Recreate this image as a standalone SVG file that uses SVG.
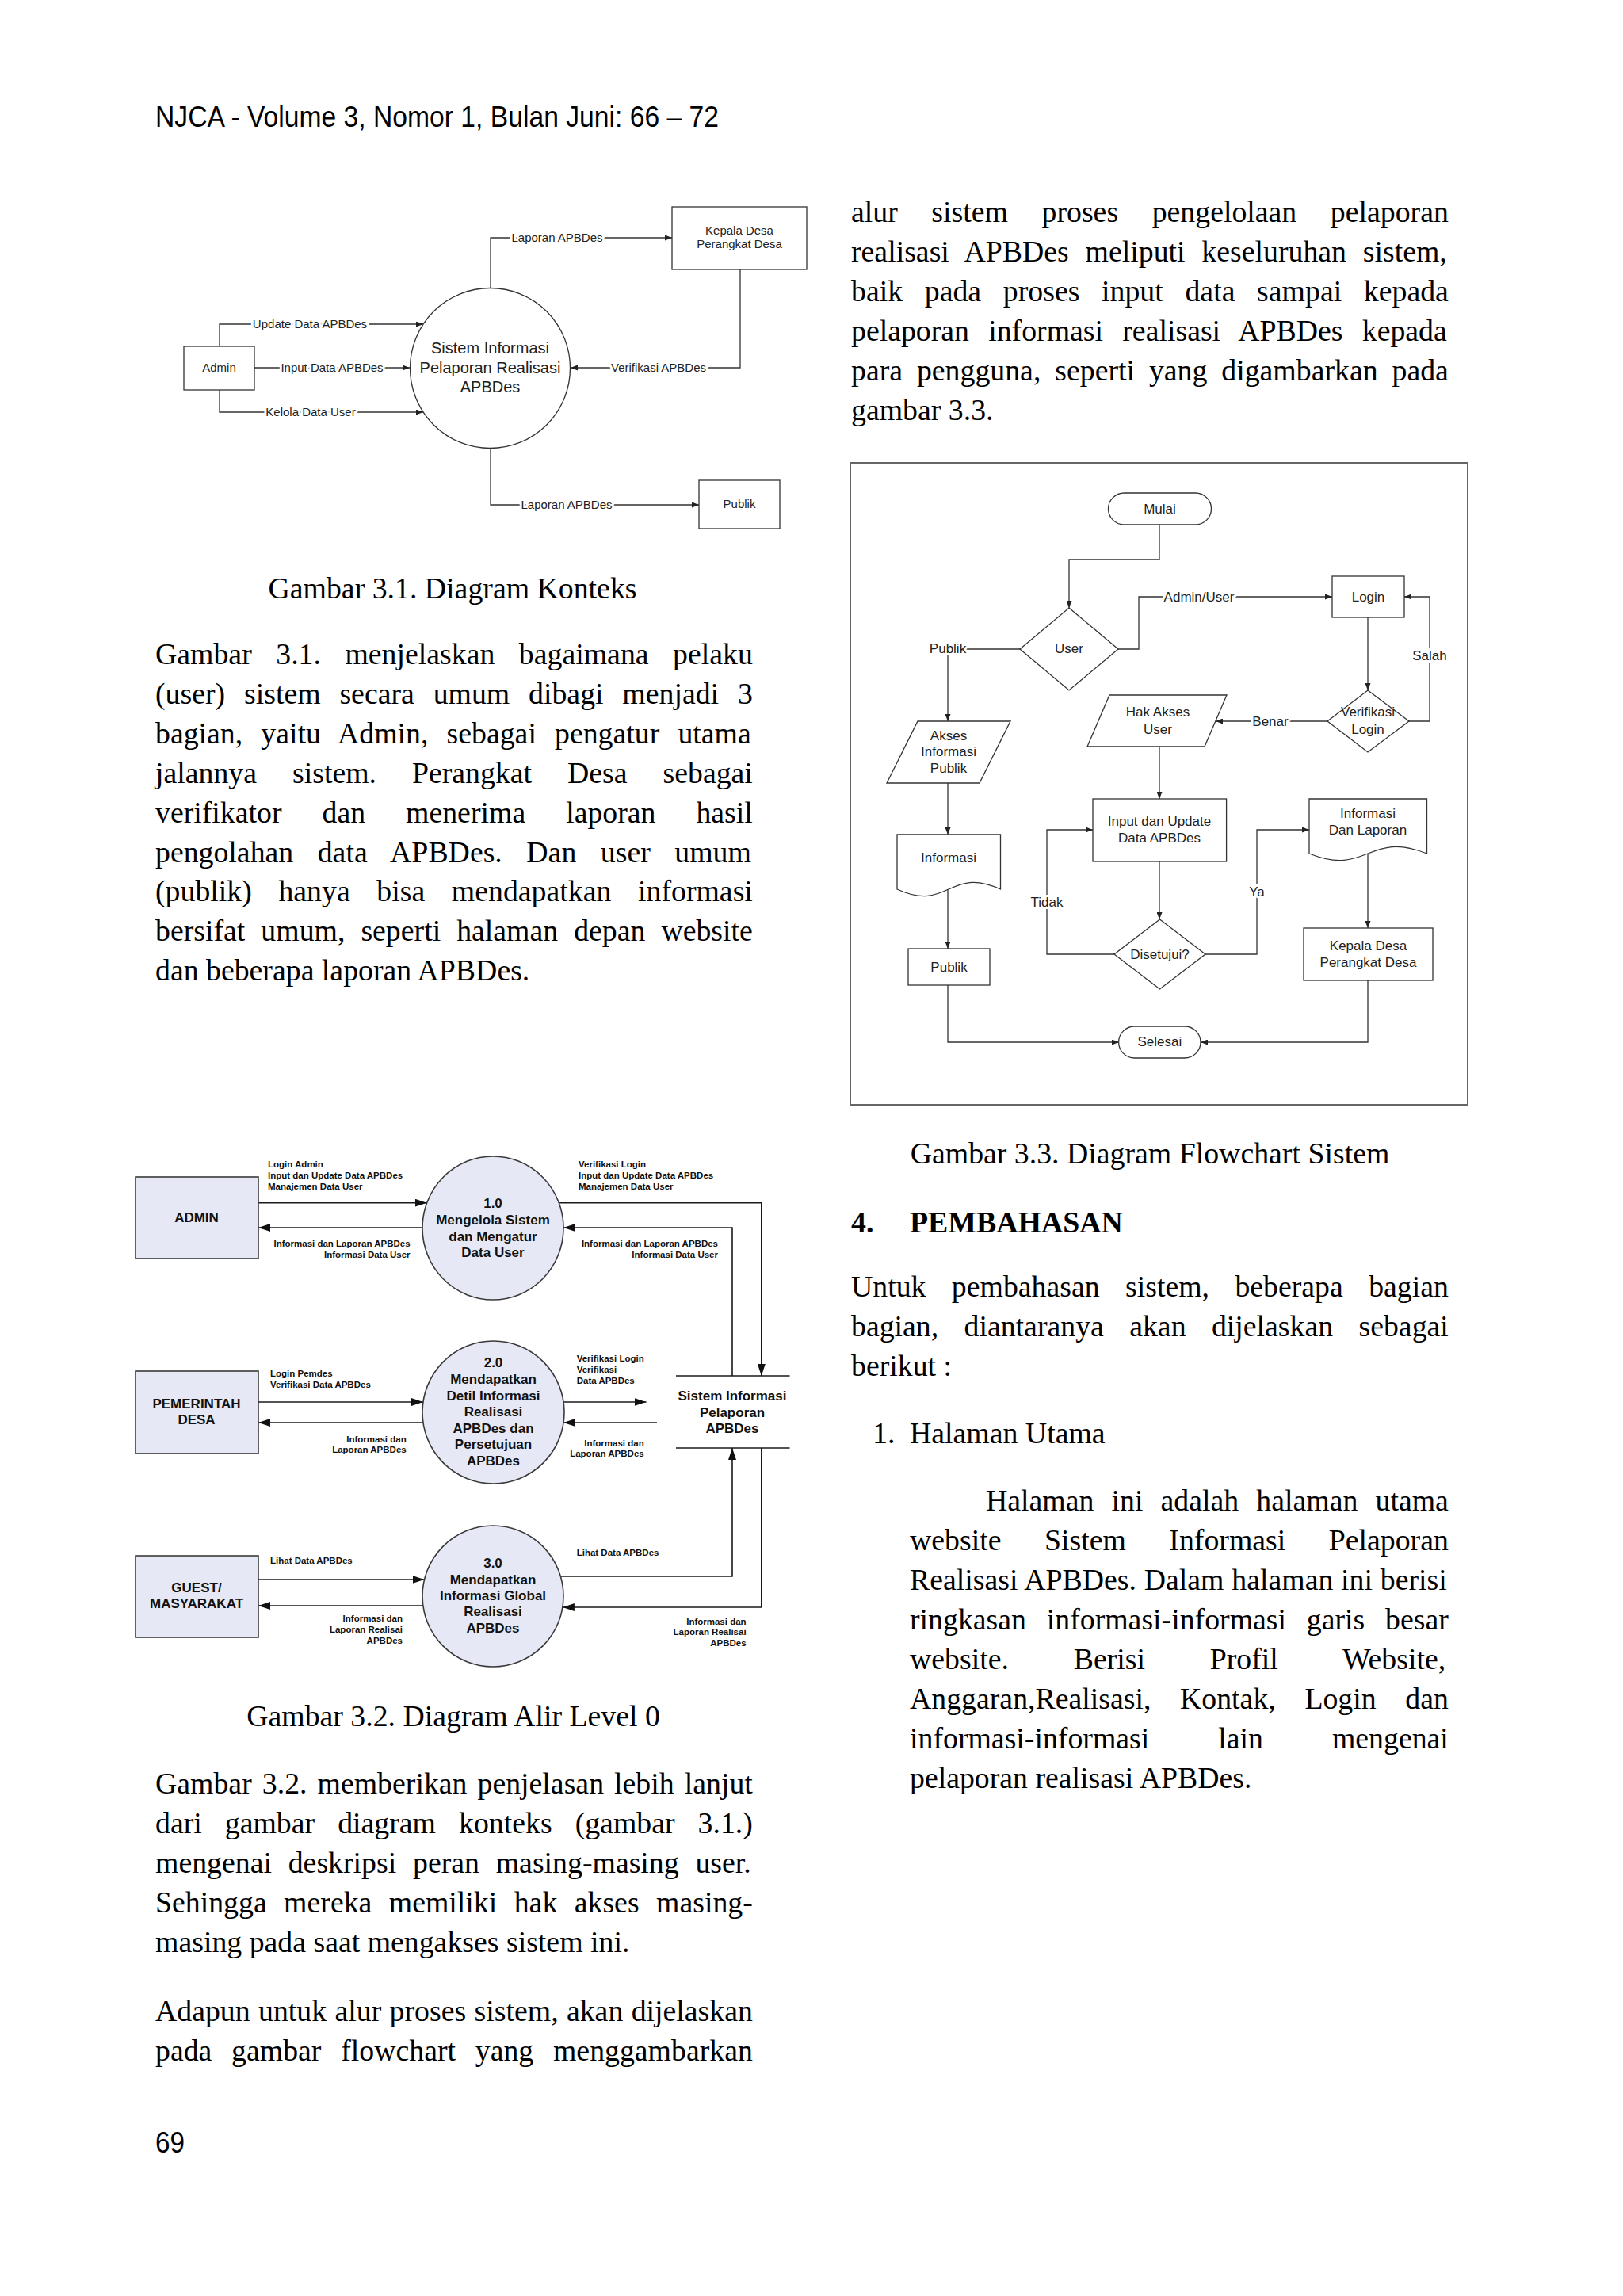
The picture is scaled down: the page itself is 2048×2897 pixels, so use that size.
<svg xmlns="http://www.w3.org/2000/svg" width="2048" height="2897" viewBox="0 0 2048 2897">
<defs>
<marker id="ah" markerUnits="userSpaceOnUse" markerWidth="9" markerHeight="7" refX="9" refY="3.5" orient="auto"><path d="M0,0 L9,3.5 L0,7 z" fill="#222"/></marker>
<marker id="ahd" markerUnits="userSpaceOnUse" markerWidth="15" markerHeight="10" refX="15" refY="5" orient="auto"><path d="M0,0 L15,5 L0,10 z" fill="#111"/></marker>
</defs>
<style>
.t{font-family:"Liberation Serif","Times New Roman",serif;font-size:37.8px;fill:#000;font-variant-ligatures:none}
.tb{font-weight:bold}
.hd{font-family:"Liberation Sans",Arial,sans-serif;font-size:36px;fill:#000}
.c15{font-family:"Liberation Sans",Arial,sans-serif;font-size:15px;fill:#222}
.c20{font-family:"Liberation Sans",Arial,sans-serif;font-size:20px;fill:#222}
.f17{font-family:"Liberation Sans",Arial,sans-serif;font-size:17px;fill:#222}
.d17{font-family:"Liberation Sans",Arial,sans-serif;font-size:17px;font-weight:bold;fill:#111}
.d11{font-family:"Liberation Sans",Arial,sans-serif;font-size:11.5px;font-weight:bold;fill:#111}
.halo{stroke:#fff;stroke-width:6px;paint-order:stroke;stroke-linejoin:round}
.mid{text-anchor:middle}
.end{text-anchor:end}
.ln{fill:none;stroke:#333;stroke-width:1.3}
.sh{fill:#fff;stroke:#333;stroke-width:1.3}
.dsh{fill:#e6e9f5;stroke:#3a3a3a;stroke-width:1.6}
.dln{fill:none;stroke:#1a1a1a;stroke-width:1.6}
.frame{fill:none;stroke:#666;stroke-width:2}
</style>
<rect x="0" y="0" width="2048" height="2897" fill="#fff"/>

<!-- Header and page number -->
<text class="hd" x="196" y="160" textLength="711" lengthAdjust="spacingAndGlyphs">NJCA - Volume 3, Nomor 1, Bulan Juni: 66 – 72</text>
<text class="hd" x="196" y="2716" textLength="37" lengthAdjust="spacingAndGlyphs">69</text>

<!-- ===== Context diagram (Gambar 3.1) ===== -->
<g id="ctx-connectors">
<path class="ln" d="M277,437 V409 H534" marker-end="url(#ah)"/>
<path class="ln" d="M321,464 H517" marker-end="url(#ah)"/>
<path class="ln" d="M277,492 V520 H534" marker-end="url(#ah)"/>
<path class="ln" d="M619,363 V300 H848" marker-end="url(#ah)"/>
<path class="ln" d="M934,340 V464 H720" marker-end="url(#ah)"/>
<path class="ln" d="M619,566 V637 H882" marker-end="url(#ah)"/>
<text class="c15 mid halo" x="391" y="414">Update Data APBDes</text>
<text class="c15 mid halo" x="419" y="469">Input Data APBDes</text>
<text class="c15 mid halo" x="392" y="525">Kelola Data User</text>
<text class="c15 mid halo" x="703" y="305">Laporan APBDes</text>
<text class="c15 mid halo" x="831" y="469">Verifikasi APBDes</text>
<text class="c15 mid halo" x="715" y="642">Laporan APBDes</text>
</g>
<g id="ctx-admin"><rect class="sh" x="232" y="437" width="89" height="55"/><text class="c15 mid" x="276.5" y="469">Admin</text></g>
<g id="ctx-system"><circle class="sh" cx="618.5" cy="464.5" r="101"/>
<text class="c20 mid" x="618.5" y="446">Sistem Informasi</text>
<text class="c20 mid" x="618.5" y="471">Pelaporan Realisasi</text>
<text class="c20 mid" x="618.5" y="495">APBDes</text></g>
<g id="ctx-kepala"><rect class="sh" x="848" y="261" width="170" height="79"/>
<text class="c15 mid" x="933" y="296">Kepala Desa</text>
<text class="c15 mid" x="933" y="313">Perangkat Desa</text></g>
<g id="ctx-publik"><rect class="sh" x="882" y="606" width="102" height="61"/><text class="c15 mid" x="933" y="641">Publik</text></g>

<text class="t mid" x="571" y="755">Gambar 3.1. Diagram Konteks</text>

<!-- Left paragraph 1 -->
<text class="t" x="196" y="838" word-spacing="21.06">Gambar 3.1. menjelaskan bagaimana pelaku</text>
<text class="t" x="196" y="888" word-spacing="14.38">(user) sistem secara umum dibagi menjadi 3</text>
<text class="t" x="196" y="938" word-spacing="13.69">bagian, yaitu Admin, sebagai pengatur utama</text>
<text class="t" x="196" y="988" word-spacing="35.49">jalannya sistem. Perangkat Desa sebagai</text>
<text class="t" x="196" y="1038" word-spacing="41.53">verifikator dan menerima laporan hasil</text>
<text class="t" x="196" y="1088" word-spacing="21.04">pengolahan data APBDes. Dan user umum</text>
<text class="t" x="196" y="1137" word-spacing="24.2">(publik) hanya bisa mendapatkan informasi</text>
<text class="t" x="196" y="1187" word-spacing="10.55">bersifat umum, seperti halaman depan website</text>
<text class="t" x="196" y="1237">dan beberapa laporan APBDes.</text>

<!-- Right paragraph top -->
<text class="t" x="1074" y="280" word-spacing="33.13">alur sistem proses pengelolaan pelaporan</text>
<text class="t" x="1074" y="330" word-spacing="11.32">realisasi APBDes meliputi keseluruhan sistem,</text>
<text class="t" x="1074" y="380" word-spacing="18.24">baik pada proses input data sampai kepada</text>
<text class="t" x="1074" y="430" word-spacing="14.76">pelaporan informasi realisasi APBDes kepada</text>
<text class="t" x="1074" y="480" word-spacing="8.46">para pengguna, seperti yang digambarkan pada</text>
<text class="t" x="1074" y="530">gambar 3.3.</text>

<!-- ===== Flowchart (Gambar 3.3) ===== -->
<rect class="frame" x="1073" y="584" width="779" height="810"/>
<g id="fc-connectors">
<path class="ln" d="M1463,662 V706 H1349 V767" marker-end="url(#ah)"/>
<path class="ln" d="M1411,819 H1437 V753 H1681" marker-end="url(#ah)"/>
<path class="ln" d="M1287,819 H1196 V910" marker-end="url(#ah)"/>
<path class="ln" d="M1726,779 V871" marker-end="url(#ah)"/>
<path class="ln" d="M1778,910 H1804 V753 H1772" marker-end="url(#ah)"/>
<path class="ln" d="M1675,910 H1534" marker-end="url(#ah)"/>
<path class="ln" d="M1463,942 V1008" marker-end="url(#ah)"/>
<path class="ln" d="M1196,988 V1053" marker-end="url(#ah)"/>
<path class="ln" d="M1196,1122 V1197" marker-end="url(#ah)"/>
<path class="ln" d="M1196,1243 V1315 H1412" marker-end="url(#ah)"/>
<path class="ln" d="M1463,1087 V1160" marker-end="url(#ah)"/>
<path class="ln" d="M1406,1204 H1321 V1047 H1379" marker-end="url(#ah)"/>
<path class="ln" d="M1521,1204 H1586 V1047 H1652" marker-end="url(#ah)"/>
<path class="ln" d="M1726,1077 V1171" marker-end="url(#ah)"/>
<path class="ln" d="M1726,1237 V1315 H1515" marker-end="url(#ah)"/>
<text class="f17 mid halo" x="1513" y="759">Admin/User</text>
<text class="f17 mid halo" x="1196" y="824">Publik</text>
<text class="f17 mid halo" x="1804" y="833">Salah</text>
<text class="f17 mid halo" x="1603" y="916">Benar</text>
<text class="f17 mid halo" x="1321" y="1144">Tidak</text>
<text class="f17 mid halo" x="1586" y="1131">Ya</text>
</g>
<g id="fc-mulai"><rect class="sh" x="1398.5" y="622" width="130" height="40" rx="20"/><text class="f17 mid" x="1463.5" y="648">Mulai</text></g>
<g id="fc-user"><polygon class="sh" points="1349,767 1411,819 1349,871 1287,819"/><text class="f17 mid" x="1349" y="824">User</text></g>
<g id="fc-login"><rect class="sh" x="1681" y="727" width="91" height="52"/><text class="f17 mid" x="1726.5" y="759">Login</text></g>
<g id="fc-verifikasi"><polygon class="sh" points="1726,871 1778,910 1726,949 1675,910"/>
<text class="f17 mid" x="1726" y="904">Verifikasi</text><text class="f17 mid" x="1726" y="926">Login</text></g>
<g id="fc-hakakses"><polygon class="sh" points="1400,877 1548,877 1520,942 1372,942"/>
<text class="f17 mid" x="1461" y="904">Hak Akses</text><text class="f17 mid" x="1461" y="926">User</text></g>
<g id="fc-akses"><polygon class="sh" points="1158,910 1275,910 1236,988 1119,988"/>
<text class="f17 mid" x="1197" y="934">Akses</text><text class="f17 mid" x="1197" y="954">Informasi</text><text class="f17 mid" x="1197" y="975">Publik</text></g>
<g id="fc-informasi"><path class="sh" d="M1132,1053 H1262.5 V1122 C1197,1092 1197,1152 1132,1122 Z"/><text class="f17 mid" x="1197" y="1088">Informasi</text></g>
<g id="fc-publik"><rect class="sh" x="1146" y="1197" width="103" height="46"/><text class="f17 mid" x="1197.5" y="1226">Publik</text></g>
<g id="fc-input"><rect class="sh" x="1379" y="1008" width="168.6" height="79"/>
<text class="f17 mid" x="1463" y="1042">Input dan Update</text><text class="f17 mid" x="1463" y="1063">Data APBDes</text></g>
<g id="fc-disetujui"><polygon class="sh" points="1463.5,1160 1521,1204 1463.5,1248 1406,1204"/><text class="f17 mid" x="1463.5" y="1210">Disetujui?</text></g>
<g id="fc-laporan"><path class="sh" d="M1652,1008 H1800.5 V1077 C1726,1047 1726,1107 1652,1077 Z"/>
<text class="f17 mid" x="1726" y="1032">Informasi</text><text class="f17 mid" x="1726" y="1053">Dan Laporan</text></g>
<g id="fc-kepala"><rect class="sh" x="1645" y="1171" width="163" height="66"/>
<text class="f17 mid" x="1726.5" y="1199">Kepala Desa</text><text class="f17 mid" x="1726.5" y="1220">Perangkat Desa</text></g>
<g id="fc-selesai"><rect class="sh" x="1411.6" y="1295" width="103.4" height="40" rx="20"/><text class="f17 mid" x="1463.3" y="1320">Selesai</text></g>

<text class="t mid" x="1451" y="1468">Gambar 3.3. Diagram Flowchart Sistem</text>

<!-- Right column: section 4 -->
<text class="t tb" x="1074" y="1555">4.</text>
<text class="t tb" x="1148" y="1555">PEMBAHASAN</text>
<text class="t" x="1074" y="1636" word-spacing="22.9">Untuk pembahasan sistem, beberapa bagian</text>
<text class="t" x="1074" y="1686" word-spacing="22.9">bagian, diantaranya akan dijelaskan sebagai</text>
<text class="t" x="1074" y="1736">berikut :</text>
<text class="t" x="1101" y="1821">1.</text>
<text class="t" x="1148" y="1821">Halaman Utama</text>
<text class="t" x="1244" y="1906" word-spacing="12.68">Halaman ini adalah halaman utama</text>
<text class="t" x="1148" y="1956" word-spacing="45.03">website Sistem Informasi Pelaporan</text>
<text class="t" x="1148" y="2006" word-spacing="0.35">Realisasi APBDes. Dalam halaman ini berisi</text>
<text class="t" x="1148" y="2056" word-spacing="16.35">ringkasan informasi-informasi garis besar</text>
<text class="t" x="1148" y="2106" word-spacing="72.33">website. Berisi Profil Website,</text>
<text class="t" x="1148" y="2156" word-spacing="27.19">Anggaran,Realisasi, Kontak, Login dan</text>
<text class="t" x="1148" y="2206" word-spacing="77.53">informasi-informasi lain mengenai</text>
<text class="t" x="1148" y="2256">pelaporan realisasi APBDes.</text>

<!-- ===== DFD Level 0 (Gambar 3.2) ===== -->
<g id="dfd-connectors">
<path class="dln" d="M326,1517.7 H538.7" marker-end="url(#ahd)"/>
<path class="dln" d="M533,1549 H326" marker-end="url(#ahd)"/>
<path class="dln" d="M705.3,1517.7 H960.8 V1736" marker-end="url(#ahd)"/>
<path class="dln" d="M924,1736 V1549 H711" marker-end="url(#ahd)"/>
<path class="dln" d="M326,1769 H534" marker-end="url(#ahd)"/>
<path class="dln" d="M534,1795 H326" marker-end="url(#ahd)"/>
<path class="dln" d="M711,1769 H815.5" marker-end="url(#ahd)"/>
<path class="dln" d="M829,1795 H711" marker-end="url(#ahd)"/>
<path class="dln" d="M326,1993 H535.5" marker-end="url(#ahd)"/>
<path class="dln" d="M533.8,2026 H326" marker-end="url(#ahd)"/>
<path class="dln" d="M707.4,1989 H924 V1827" marker-end="url(#ahd)"/>
<path class="dln" d="M960.8,1827 V2028 H709.9" marker-end="url(#ahd)"/>
<text class="d11" x="338" y="1473">Login Admin</text>
<text class="d11" x="338" y="1487">Input dan Update Data APBDes</text>
<text class="d11" x="338" y="1501">Manajemen Data User</text>
<text class="d11 end" x="517.6" y="1573">Informasi dan Laporan APBDes</text>
<text class="d11 end" x="517.6" y="1587">Informasi Data User</text>
<text class="d11" x="730" y="1473">Verifikasi Login</text>
<text class="d11" x="730" y="1487">Input dan Update Data APBDes</text>
<text class="d11" x="730" y="1501">Manajemen Data User</text>
<text class="d11 end" x="906" y="1573">Informasi dan Laporan APBDes</text>
<text class="d11 end" x="906" y="1587">Informasi Data User</text>
<text class="d11" x="341" y="1737">Login Pemdes</text>
<text class="d11" x="341" y="1751">Verifikasi Data APBDes</text>
<text class="d11 end" x="512.7" y="1820">Informasi dan</text>
<text class="d11 end" x="512.7" y="1833">Laporan APBDes</text>
<text class="d11" x="727.7" y="1718">Verifikasi Login</text>
<text class="d11" x="727.7" y="1732">Verifikasi</text>
<text class="d11" x="727.7" y="1746">Data APBDes</text>
<text class="d11 end" x="812.7" y="1825">Informasi dan</text>
<text class="d11 end" x="812.7" y="1838">Laporan APBDes</text>
<text class="d11" x="341" y="1973">Lihat Data APBDes</text>
<text class="d11 end" x="508" y="2046">Informasi dan</text>
<text class="d11 end" x="508" y="2060">Laporan Realisai</text>
<text class="d11 end" x="508" y="2074">APBDes</text>
<text class="d11" x="727.7" y="1963">Lihat Data APBDes</text>
<text class="d11 end" x="941.6" y="2050">Informasi dan</text>
<text class="d11 end" x="941.6" y="2063">Laporan Realisai</text>
<text class="d11 end" x="941.6" y="2077">APBDes</text>
</g>
<g id="dfd-admin"><rect class="dsh" x="171" y="1485" width="155" height="103"/><text class="d17 mid" x="248" y="1542">ADMIN</text></g>
<g id="dfd-pemdes"><rect class="dsh" x="171" y="1730" width="155" height="104"/>
<text class="d17 mid" x="248" y="1777">PEMERINTAH</text><text class="d17 mid" x="248" y="1797">DESA</text></g>
<g id="dfd-guest"><rect class="dsh" x="171" y="1963" width="155" height="103"/>
<text class="d17 mid" x="248" y="2009">GUEST/</text><text class="d17 mid" x="248" y="2029">MASYARAKAT</text></g>
<g id="dfd-p1"><ellipse class="dsh" cx="622" cy="1549.5" rx="89" ry="90.5"/>
<text class="d17 mid" x="622" y="1524">1.0</text>
<text class="d17 mid" x="622" y="1545">Mengelola Sistem</text>
<text class="d17 mid" x="622" y="1566">dan Mengatur</text>
<text class="d17 mid" x="622" y="1586">Data User</text></g>
<g id="dfd-p2"><ellipse class="dsh" cx="622.5" cy="1782" rx="89.5" ry="90"/>
<text class="d17 mid" x="622.5" y="1725">2.0</text>
<text class="d17 mid" x="622.5" y="1746">Mendapatkan</text>
<text class="d17 mid" x="622.5" y="1767">Detil Informasi</text>
<text class="d17 mid" x="622.5" y="1787">Realisasi</text>
<text class="d17 mid" x="622.5" y="1808">APBDes dan</text>
<text class="d17 mid" x="622.5" y="1828">Persetujuan</text>
<text class="d17 mid" x="622.5" y="1849">APBDes</text></g>
<g id="dfd-p3"><ellipse class="dsh" cx="622" cy="2014" rx="89" ry="89"/>
<text class="d17 mid" x="622" y="1978">3.0</text>
<text class="d17 mid" x="622" y="1999">Mendapatkan</text>
<text class="d17 mid" x="622" y="2019">Informasi Global</text>
<text class="d17 mid" x="622" y="2039">Realisasi</text>
<text class="d17 mid" x="622" y="2060">APBDes</text></g>
<g id="dfd-store">
<line class="dln" x1="853" y1="1736" x2="996.5" y2="1736"/>
<line class="dln" x1="853" y1="1827" x2="996.5" y2="1827"/>
<text class="d17 mid" x="924" y="1767">Sistem Informasi</text>
<text class="d17 mid" x="924" y="1788">Pelaporan</text>
<text class="d17 mid" x="924" y="1808">APBDes</text></g>

<text class="t mid" x="572" y="2178">Gambar 3.2. Diagram Alir Level 0</text>

<!-- Left lower paragraphs -->
<text class="t" x="196" y="2263" word-spacing="3.61">Gambar 3.2. memberikan penjelasan lebih lanjut</text>
<text class="t" x="196" y="2313" word-spacing="19.58">dari gambar diagram konteks (gambar 3.1.)</text>
<text class="t" x="196" y="2363" word-spacing="11.34">mengenai deskripsi peran masing-masing user.</text>
<text class="t" x="196" y="2413" word-spacing="12.0">Sehingga mereka memiliki hak akses masing-</text>
<text class="t" x="196" y="2463">masing pada saat mengakses sistem ini.</text>
<text class="t" x="196" y="2550" word-spacing="0.91">Adapun untuk alur proses sistem, akan dijelaskan</text>
<text class="t" x="196" y="2600" word-spacing="15.3">pada gambar flowchart yang menggambarkan</text>
</svg>
